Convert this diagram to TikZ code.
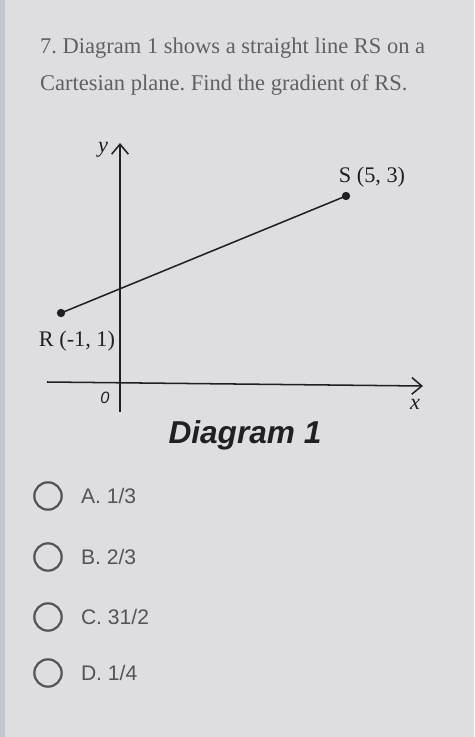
\documentclass[tikz,border=0pt]{standalone}
\usepackage{fontspec}
\setmainfont{Liberation Serif}
\newfontfamily\optfont{Liberation Sans}
\usetikzlibrary{arrows.meta, positioning}
\definecolor{screen}{RGB}{221,221,226}
\definecolor{edgestrip}{RGB}{196,198,207}
\definecolor{qtext}{RGB}{96,96,100}
\definecolor{opttext}{RGB}{84,84,88}
\definecolor{ink}{RGB}{32,32,34}
\frenchspacing
\tikzstyle{question} = [anchor=base west, inner sep=0pt, text=qtext, font=\fontsize{19.2}{23}\selectfont]
\tikzstyle{coordlabel} = [inner sep=0pt, text=ink, font=\fontsize{19}{22}\selectfont]
\tikzstyle{dot} = [circle, fill=ink, inner sep=0pt, minimum size=0.25cm]
\tikzstyle{axisline} = [line width=1.3pt, draw=ink, -{Straight Barb[length=0.3cm, width=0.5cm, line width=1.3pt]}]
\tikzstyle{radio} = [circle, draw=opttext, line width=1.9pt, minimum size=0.82cm, inner sep=0pt]
\tikzstyle{choice} = [anchor=west, inner sep=0pt, text=opttext, font=\optfont\fontsize{18}{21}\selectfont]

\begin{document}
\begin{tikzpicture}[x=0.03cm, y=-0.03cm]

% screen background
\fill[screen] (0,0) rectangle (474,737);
\fill[edgestrip] (0,0) rectangle (5,737);
\useasboundingbox (0,0) rectangle (474,737);

% question
\node (line1) [question] at (40,54) {7. Diagram 1 shows a straight line RS on a};
\node (line2) [question] at (40,91) {Cartesian plane. Find the gradient of RS.};

% axes
\coordinate (xstart) at (47,382);
\coordinate (xend) at (423,386);
\coordinate (ystart) at (120,412);
\coordinate (yend) at (120,143);
\draw [axisline] (xstart) -- (xend);
\draw [axisline] (ystart) -- (yend);
\node (ylab) [coordlabel, font=\itshape\fontsize{19}{22}\selectfont] at (103,150) {y};
\node (xlab) [coordlabel, font=\itshape\fontsize{19}{22}\selectfont] at (415,404) {x};
\node (origin) [coordlabel, font=\optfont\itshape\fontsize{14}{16}\selectfont] at (105,398) {0};

% line RS
\node (R) [dot] at (61,313) {};
\node (S) [dot] at (346,196) {};
\draw [line width=1.3pt, ink] (R.center) -- (S.center);
\node (Rlab) [coordlabel] at (77,341) {R (-1, 1)};
\node (Slab) [coordlabel] at (372,177) {S (5, 3)};

\node (caption) [text=ink, font=\optfont\bfseries\itshape\fontsize{27}{31}\selectfont] at (245,435) {Diagram 1};

% choices
\node (radioA) [radio] at (48,496) {};
\node (radioB) [radio] at (48,557) {};
\node (radioC) [radio] at (48,617) {};
\node (radioD) [radio] at (48,673) {};
\node (optA) [choice, right=0.54cm of radioA] {A. 1/3};
\node (optB) [choice, right=0.54cm of radioB] {B. 2/3};
\node (optC) [choice, right=0.54cm of radioC] {C. 31/2};
\node (optD) [choice, right=0.54cm of radioD] {D. 1/4};

\end{tikzpicture}
\end{document}
